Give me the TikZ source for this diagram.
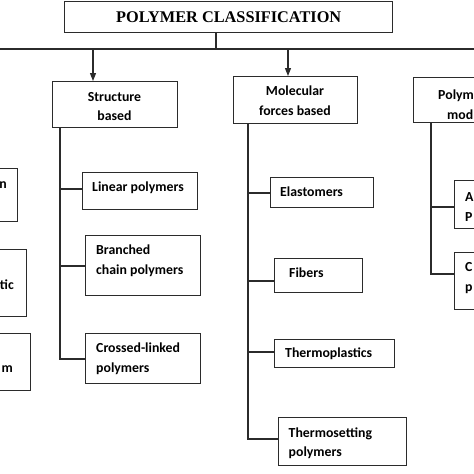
\documentclass[tikz,border=0pt]{standalone}
\usepackage{fontspec}
\setmainfont{Liberation Serif}
\newfontfamily\carl{Carlito}
\usetikzlibrary{arrows.meta}
\definecolor{ln}{HTML}{2B2B2B}
\begin{document}
\begin{tikzpicture}[x=1pt,y=-1pt,
  box/.style={draw=ln, line width=1.4pt, inner sep=0pt, anchor=north west},
  frag/.style={inner sep=0pt, anchor=base west, font=\carl\bfseries\fontsize{13.8}{20}\selectfont, text=black},
  cfrag/.style={frag, anchor=base},
  wire/.style={draw=ln, line width=1.1pt},
  arr/.style={wire, -{Triangle[length=8pt,width=6pt]}}
]
\useasboundingbox (0,0) rectangle (474,474);
\clip (0,0) rectangle (474,474);

% title
\node[box, minimum width=328pt, minimum height=31pt,
  font=\bfseries\fontsize{16.3}{18}\selectfont] (title) at (64,1) {POLYMER CLASSIFICATION};

% second level
\node[box, minimum width=125pt, minimum height=46pt] (struct) at (52,81) {};
\node[cfrag] (structt1) at (114.5,101) {Structure};
\node[cfrag] (structt2) at (114.5,120) {based};
\node[box, minimum width=124pt, minimum height=47pt] (molec) at (233,76) {};
\node[cfrag] (molect1) at (295,95.5) {Molecular};
\node[cfrag] (molect2) at (295,115.5) {forces based};
\node[box, minimum width=120pt, minimum height=45pt] (polym) at (413,77) {};
\node[frag] (polymt1) at (438,99.5) {Polym};
\node[frag] (polymt2) at (447,119.5) {mod};

% left column (clipped)
\node[box, anchor=north east, minimum width=80pt, minimum height=53pt] (left1) at (18,168) {};
\node[box, anchor=north east, minimum width=80pt, minimum height=67pt] (left2) at (27,249) {};
\node[box, anchor=north east, minimum width=80pt, minimum height=57pt] (left3) at (31,333) {};
\node[frag, anchor=base east] (left1t) at (7,188) {n};
\node[frag, anchor=base east] (left2t) at (14,289.5) {tic};
\node[frag, anchor=base east] (left3t) at (13,372) {m};

% structure children
\node[box, minimum width=115pt, minimum height=37pt] (lin) at (82,172) {};
\node[frag] (lint) at (92,191.5) {Linear polymers};
\node[box, minimum width=115pt, minimum height=60pt] (bra) at (85,235) {};
\node[frag] (brat1) at (96,254.5) {Branched};
\node[frag] (brat2) at (96,274.5) {chain polymers};
\node[box, minimum width=115pt, minimum height=50pt] (cro) at (85,333) {};
\node[frag] (crot1) at (96,352.5) {Crossed-linked};
\node[frag] (crot2) at (96,372.5) {polymers};

% molecular children
\node[box, minimum width=103pt, minimum height=30pt] (ela) at (270,177) {};
\node[frag] (elat) at (280,196.5) {Elastomers};
\node[box, minimum width=88pt, minimum height=34pt] (fib) at (274,258) {};
\node[frag] (fibt) at (289,277.5) {Fibers};
\node[box, minimum width=120pt, minimum height=28pt] (tpl) at (274,339) {};
\node[frag] (tplt) at (285,357.5) {Thermoplastics};
\node[box, minimum width=128pt, minimum height=48pt] (tse) at (278,417) {};
\node[frag] (tset1) at (288.5,437) {Thermosetting};
\node[frag] (tset2) at (288.5,456.5) {polymers};

% polymerization children (clipped)
\node[box, minimum width=80pt, minimum height=48pt] (add) at (454,180) {};
\node[box, minimum width=80pt, minimum height=57pt] (con) at (454,252) {};
\node[frag] (addt1) at (465,201.5) {A};
\node[frag] (addt2) at (465,221) {P};
\node[frag] (cont1) at (465,271.5) {C};
\node[frag] (cont2) at (465,291) {p};

% bus
\coordinate (hub) at (216,49);
\coordinate (busL) at (0,49);
\coordinate (busR) at (474,49);
\draw[wire] (hub |- title.south) -- (hub);
\draw[wire] (busL) -- (busR);
\coordinate (a1) at (93,49);
\coordinate (a2) at (288,49);
\draw[arr] (a1) -- (a1 |- struct.north);
\draw[arr] (a2) -- (a2 |- molec.north);

% structure tree
\coordinate (sv) at (60,0);
\draw[wire] (sv |- struct.south) -- (sv |- 0,359) -- (cro.west |- 0,359);
\draw[wire] (sv |- 0,189) -- (lin.west |- 0,189);
\draw[wire] (sv |- 0,266) -- (bra.west |- 0,266);

% molecular tree
\coordinate (mv) at (248,0);
\draw[wire] (mv |- molec.south) -- (mv |- 0,439) -- (tse.west |- 0,439);
\draw[wire] (mv |- 0,193) -- (ela.west |- 0,193);
\draw[wire] (mv |- 0,281) -- (fib.west |- 0,281);
\draw[wire] (mv |- 0,352) -- (tpl.west |- 0,352);

% polymerization tree
\coordinate (pv) at (431,0);
\draw[wire] (pv |- polym.south) -- (pv |- 0,274) -- (con.west |- 0,274);
\draw[wire] (pv |- 0,207) -- (add.west |- 0,207);
\end{tikzpicture}
\end{document}
